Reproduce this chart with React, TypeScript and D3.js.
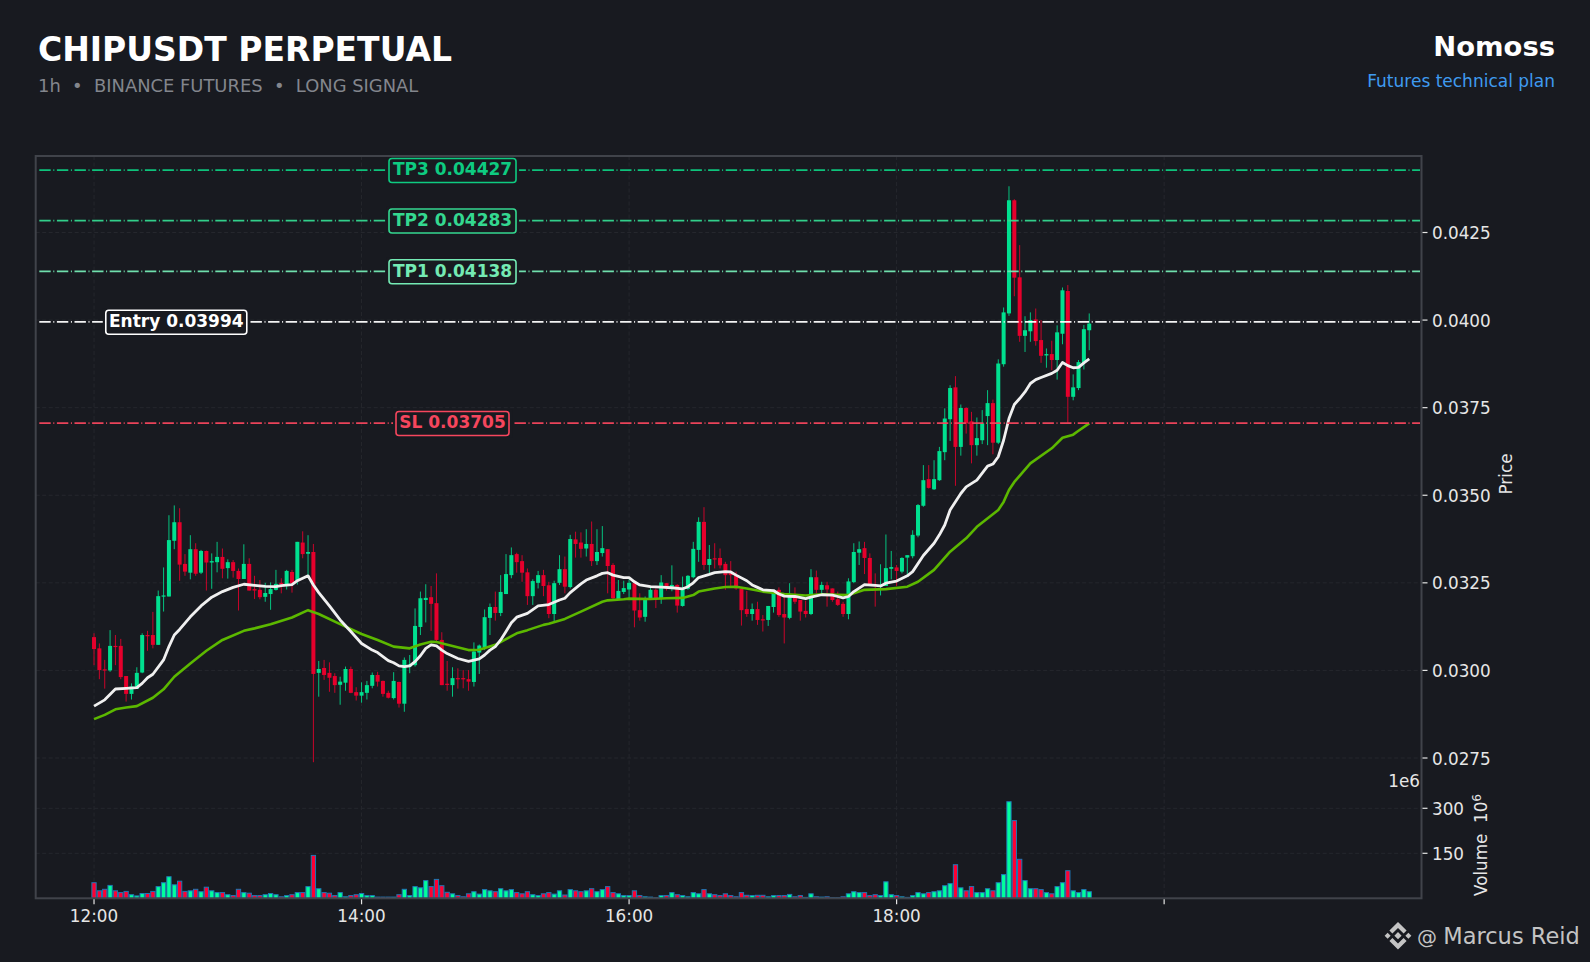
import React from "react";
import * as d3 from "d3";

// Prices below are in units of 0.00001 USDT, one entry per bar.
const priceUnit = 1e-5;
const barHours = 0.04;
const sessionStartHour = 12;

const highs = [
3106,3077,3030,3115,3101,3090,2984,2963,3009,3106,
3113,3167,3228,3294,3443,3471,3463,3332,3386,3363,
3344,3342,3334,3367,3348,3317,3315,3291,3360,3320,
3270,3258,3250,3251,3287,3263,3287,3287,3367,3397,
3386,3361,3027,3030,3023,2992,2982,3011,3011,2952,
2966,2970,2994,2996,2971,2942,2995,2968,3037,3044,
3177,3225,3246,3241,3277,3109,3027,3009,3006,3001,
3001,3080,3074,3174,3191,3225,3272,3332,3351,3336,
3329,3291,3260,3284,3287,3253,3256,3329,3325,3387,
3396,3394,3403,3425,3403,3412,3346,3306,3258,3256,
3260,3258,3220,3211,3239,3234,3272,3249,3300,3246,
3268,3272,3367,3437,3466,3358,3363,3348,3310,3312,
3282,3234,3227,3191,3196,3158,3184,3230,3237,3220,
3249,3237,3201,3199,3289,3285,3253,3253,3234,3225,
3196,3263,3363,3368,3367,3334,3277,3303,3388,3341,
3301,3323,3329,3400,3475,3586,3586,3600,3638,3748,
3814,3840,3759,3751,3738,3722,3743,3800,3773,3888,
4036,4382,4345,4214,4011,4022,4033,4000,3919,3941,
3985,4093,4100,3845,3886,3986,4019];

const lows = [
3015,2975,2948,2996,3015,2975,2911,2917,2947,2992,
3056,3063,3073,3168,3211,3346,3256,3270,3260,3270,
3275,3228,3233,3280,3263,3262,3265,3171,3261,3228,
3204,3203,3196,3173,3228,3220,3231,3222,3245,3320,
3272,2738,2925,2973,2939,2936,2902,2942,2935,2914,
2908,2917,2949,2954,2925,2920,2917,2894,2882,2992,
3011,3101,3137,3113,3082,2958,2942,2925,2948,2949,
2942,2954,2990,3058,3101,3142,3155,3218,3263,3279,
3253,3187,3187,3234,3212,3149,3139,3244,3220,3234,
3322,3322,3325,3298,3301,3325,3220,3201,3201,3218,
3201,3123,3142,3139,3201,3178,3190,3228,3226,3165,
3182,3230,3263,3310,3287,3277,3291,3291,3230,3239,
3230,3128,3153,3142,3130,3111,3127,3165,3153,3077,
3146,3190,3142,3151,3158,3220,3218,3182,3196,3184,
3153,3146,3249,3301,3275,3241,3182,3214,3241,3260,
3241,3277,3275,3320,3380,3467,3519,3515,3541,3600,
3655,3527,3613,3676,3591,3613,3646,3643,3617,3646,
3867,4012,4068,3938,3909,3938,3927,3878,3864,3857,
3830,3931,3707,3771,3800,3859,3914];

const opens = [
3095,3063,3003,3000,3070,3070,2984,2933,2947,2994,
3101,3101,3073,3212,3211,3370,3423,3304,3279,3346,
3279,3341,3308,3309,3324,3292,3309,3284,3261,3304,
3232,3230,3210,3218,3230,3250,3246,3281,3258,3365,
3333,3338,2993,3007,2993,2984,2959,2965,3004,2938,
2928,2936,2956,2987,2970,2936,2921,2967,2905,3011,
3015,3124,3201,3209,3192,3087,2962,2958,2978,2978,
2975,2967,3051,3066,3150,3181,3164,3218,3272,3332,
3312,3280,3212,3250,3272,3243,3161,3250,3289,3238,
3374,3365,3348,3361,3312,3335,3346,3301,3204,3224,
3231,3249,3172,3153,3205,3230,3205,3249,3239,3244,
3184,3233,3266,3344,3424,3301,3320,3321,3304,3282,
3272,3233,3175,3161,3175,3146,3144,3181,3230,3161,
3150,3211,3201,3170,3161,3266,3230,3243,3234,3203,
3190,3161,3252,3336,3349,3321,3244,3239,3241,3290,
3294,3282,3322,3326,3385,3470,3546,3517,3543,3623,
3717,3808,3638,3749,3711,3643,3657,3726,3763,3650,
3874,4019,4342,4122,3955,3968,4002,3943,3899,3903,
3886,3961,4083,3781,3806,3878,3971];

const closes = [
3061,3001,3001,3070,3068,2981,2933,2954,2993,3101,
3099,3073,3212,3214,3372,3423,3302,3282,3346,3276,
3341,3308,3312,3324,3290,3309,3284,3261,3304,3228,
3228,3209,3221,3232,3247,3246,3284,3249,3367,3332,
3338,2990,3004,2987,2979,2958,2968,3004,2936,2928,
2938,2958,2987,2968,2933,2922,2970,2905,3030,3017,
3127,3206,3207,3190,3087,2958,2959,2978,2976,2976,
2968,3054,3071,3152,3181,3164,3224,3275,3329,3309,
3279,3212,3255,3272,3241,3161,3249,3289,3239,3375,
3361,3347,3361,3312,3338,3349,3298,3206,3227,3235,
3250,3171,3151,3201,3230,3205,3251,3234,3244,3185,
3233,3270,3347,3424,3301,3318,3318,3300,3272,3272,
3234,3172,3161,3175,3144,3144,3184,3225,3158,3151,
3211,3196,3168,3161,3266,3230,3244,3231,3201,3187,
3161,3254,3338,3346,3321,3241,3241,3244,3292,3295,
3284,3321,3329,3387,3472,3543,3521,3546,3626,3719,
3806,3638,3749,3705,3643,3663,3705,3763,3650,3876,
4022,4342,4121,3955,3971,4000,3940,3898,3903,3886,
3965,4085,3781,3808,3880,3974,3990];

const volumes = [
52,25,30,43,25,19,23,12,8,16,
16,23,39,52,72,45,57,23,25,30,
22,37,25,19,19,12,9,30,19,17,
9,9,12,16,12,5,9,12,19,19,
39,143,32,19,17,9,19,5,9,12,
16,9,9,4,4,4,4,12,30,9,
39,35,59,39,63,42,20,15,9,5,
15,22,14,29,25,22,32,25,29,19,
15,22,12,9,15,19,14,25,11,29,
25,22,25,32,22,29,39,19,15,9,
9,25,9,5,4,2,9,9,19,12,
9,5,19,15,29,15,12,9,15,9,
5,19,10,9,10,10,5,9,9,9,
13,5,9,3,15,5,4,5,2,2,
5,15,22,19,19,9,12,9,55,12,
9,5,3,9,19,15,19,22,25,42,
49,112,35,25,39,19,19,32,25,52,
79,322,259,130,59,32,32,29,19,15,
39,52,92,25,19,29,22];

// Moving averages, read at the listed bars.
const fastBars = [0,2,4,6,8,9,10,11,13,14,15,16,18,20,22,24,26,28,30,32,34,35,37,38,40,41,42,44,46,48,50,52,53,55,56,57,58,59,60,61,62,63,64,65,66,68,70,72,73,74,75,76,77,78,79,81,83,85,87,88,89,91,92,94,95,96,97,99,100,101,102,104,106,108,110,111,112,113,115,116,118,119,120,122,123,124,125,127,128,129,131,133,134,136,138,139,140,141,142,144,146,147,148,150,152,153,155,157,158,159,160,162,163,165,167,168,169,170,171,172,173,174,175,176,177,179,180,181,182,183,184,185,186];
const fastValues = [2898,2916,2947,2949,2951,2963,2979,2989,3030,3068,3101,3117,3153,3184,3209,3225,3237,3246,3243,3240,3239,3242,3245,3256,3270,3244,3222,3184,3144,3111,3077,3058,3051,3028,3022,3013,3011,3013,3025,3042,3063,3073,3070,3058,3048,3034,3026,3033,3044,3058,3068,3087,3111,3136,3152,3163,3184,3188,3201,3206,3222,3247,3258,3270,3277,3279,3272,3265,3265,3253,3244,3239,3238,3236,3233,3239,3250,3265,3274,3279,3282,3281,3272,3256,3244,3237,3230,3228,3218,3212,3211,3205,3209,3216,3215,3211,3207,3211,3225,3245,3243,3241,3249,3255,3270,3282,3328,3363,3387,3415,3458,3505,3524,3543,3583,3589,3610,3657,3719,3759,3776,3795,3819,3830,3836,3848,3857,3879,3870,3864,3865,3878,3889];

const slowBars = [0,2,4,6,8,11,13,15,18,21,24,28,30,33,37,40,42,46,50,53,56,59,61,63,64,67,70,72,75,79,81,84,85,88,91,95,96,99,100,104,107,110,112,113,116,118,120,122,123,125,129,133,136,139,141,144,148,152,154,157,160,163,165,169,170,171,172,175,179,181,183,184,186];
const slowValues = [2861,2873,2889,2894,2898,2922,2946,2982,3020,3056,3087,3113,3120,3132,3151,3172,3161,3132,3104,3087,3068,3063,3074,3082,3081,3070,3058,3059,3073,3106,3115,3130,3133,3147,3168,3196,3200,3203,3205,3204,3206,3207,3215,3225,3234,3238,3239,3234,3231,3225,3218,3214,3217,3216,3215,3230,3232,3239,3253,3287,3339,3377,3410,3458,3481,3515,3538,3591,3634,3664,3673,3684,3705];

const levelNames = ["TP3", "TP2", "TP1", "Entry", "SL"];
const levelPrices = [0.04427, 0.04283, 0.04138, 0.03994, 0.03705];
const levelLabels = ["TP3 0.04427", "TP2 0.04283", "TP1 0.04138", "Entry 0.03994", "SL 0.03705"];
const levelColors = ["#0ecb81", "#34d890", "#74eab4", "#ffffff", "#f6465d"];
const levelLabelHours = [14.68, 14.68, 14.68, 12.615, 14.68];
const levelLabelWidths = [127, 127, 127, 141, 113];

const priceTicks = [0.0275, 0.03, 0.0325, 0.035, 0.0375, 0.04, 0.0425];
const volumeTicks = [150, 300];
const hourTicks = [12, 14, 16, 18, 20];
const hourLabels = ["12:00", "14:00", "16:00", "18:00", ""];

const BG = "#181a20";
const GRID = "#25272d";
const FRAME = "#40434a";
const TICK = "#e6e6e6";
const FONT = "'DejaVu Sans', sans-serif";
const UP = "#00e08f";
const DOWN = "#e6002c";
const VOL_UP = "#00ff9c";
const VOL_DOWN = "#ff0033";
const VOL_EDGE = "#1f77b4";

const left = 35.7, right = 1421.5, top = 156, bottom = 898.3;

export default function App() {
  const x = d3.scaleLinear().domain([11.564, 21.924]).range([left, right]);
  const y = d3.scaleLinear().domain([0.0275, 0.0425]).range([758, 232.5]);
  const yVol = d3.scaleLinear().domain([0, 300]).range([898.3, 808.3]);
  const barX = (i: number) => x(sessionStartHour + i * barHours);
  const px = (v: number) => y(v * priceUnit);
  const line = d3.line<[number, number]>().x((d) => barX(d[0])).y((d) => px(d[1]));
  const fastPath = line(fastBars.map((b, i) => [b, fastValues[i]] as [number, number])) ?? "";
  const slowPath = line(slowBars.map((b, i) => [b, slowValues[i]] as [number, number])) ?? "";
  const bw = barX(1) - barX(0);

  return (
    <svg
      width={1590}
      height={962}
      viewBox="0 0 1590 962"
      style={{ position: "fixed", left: 0, top: 0, display: "block", background: BG }}
      fontFamily={FONT}
    >
      <rect width={1590} height={962} fill={BG} />

      {/* grid */}
      <g stroke={GRID} strokeWidth={1} strokeDasharray="4 2.5">
        {hourTicks.map((h) => (
          <line key={h} x1={x(h)} x2={x(h)} y1={top} y2={bottom} />
        ))}
        {priceTicks.map((p) => (
          <line key={p} x1={left} x2={right} y1={y(p)} y2={y(p)} />
        ))}
        {volumeTicks.map((v) => (
          <line key={v} x1={left} x2={right} y1={yVol(v)} y2={yVol(v)} />
        ))}
      </g>

      {/* volume */}
      <g stroke={VOL_EDGE} strokeWidth={1}>
        {volumes.map((v, i) => (
          <rect
            key={i}
            x={barX(i) - bw * 0.4}
            width={bw * 0.8}
            y={yVol(v)}
            height={yVol(0) - yVol(v)}
            fill={closes[i] >= opens[i] ? VOL_UP : VOL_DOWN}
          />
        ))}
      </g>

      {/* candles */}
      {opens.map((o, i) => {
        const c = closes[i];
        const col = c >= o ? UP : DOWN;
        const yt = px(Math.max(o, c));
        const yb = px(Math.min(o, c));
        return (
          <g key={i}>
            <line x1={barX(i)} x2={barX(i)} y1={px(highs[i])} y2={px(lows[i])} stroke={col} strokeWidth={1} strokeOpacity={0.85} />
            <rect x={barX(i) - 2} width={4} y={yt} height={Math.max(yb - yt, 1.2)} fill={col} />
          </g>
        );
      })}

      {/* moving averages */}
      <path d={slowPath} fill="none" stroke="#5cb800" strokeWidth={2.6} strokeLinejoin="round" />
      <path d={fastPath} fill="none" stroke="#f0f0f0" strokeWidth={2.8} strokeLinejoin="round" />

      {/* levels */}
      {levelPrices.map((p, i) => (
        <line
          key={levelNames[i]}
          x1={39.3}
          x2={1420}
          y1={y(p) - 0.3}
          y2={y(p) - 0.3}
          stroke={levelColors[i]}
          strokeWidth={1.8}
          strokeOpacity={0.95}
          strokeDasharray="11.4 2.6 1 2.6"
        />
      ))}
      {levelPrices.map((p, i) => {
        const cx = x(levelLabelHours[i]);
        const w = levelLabelWidths[i];
        return (
          <g key={levelNames[i]}>
            <rect x={cx - w / 2 - 3} width={w + 6} y={y(p) - 14} height={28} fill={BG} />
            <rect
              x={cx - w / 2}
              width={w}
              y={y(p) - 12}
              height={24}
              rx={3}
              fill={BG}
              stroke={levelColors[i]}
              strokeWidth={1.6}
            />
            <text
              x={cx}
              y={y(p) + 4.8}
              textAnchor="middle"
              fontSize={17}
              fontWeight={700}
              fill={levelColors[i]}
            >
              {levelLabels[i]}
            </text>
          </g>
        );
      })}

      {/* frame */}
      <rect x={left} y={top} width={right - left} height={bottom - top} fill="none" stroke={FRAME} strokeWidth={2} />

      {/* axes */}
      <g stroke={TICK} strokeWidth={1.2}>
        {priceTicks.map((p) => (
          <line key={p} x1={right + 1} x2={right + 6} y1={y(p)} y2={y(p)} />
        ))}
        {volumeTicks.map((v) => (
          <line key={v} x1={right + 1} x2={right + 6} y1={yVol(v)} y2={yVol(v)} />
        ))}
        {hourTicks.map((h) => (
          <line key={h} x1={x(h)} x2={x(h)} y1={bottom + 1} y2={bottom + 6} />
        ))}
      </g>
      <g fill={TICK} fontSize={16.8}>
        {priceTicks.map((p) => (
          <text key={p} x={1432} y={y(p) + 6.6}>
            {p.toFixed(4)}
          </text>
        ))}
        {volumeTicks.map((v) => (
          <text key={v} x={1432} y={yVol(v) + 6.6}>
            {v}
          </text>
        ))}
        {hourLabels.map((l, i) =>
          l ? (
            <text key={l} x={x(hourTicks[i])} y={922} textAnchor="middle">
              {l}
            </text>
          ) : null
        )}
        <text x={1420} y={786.7} textAnchor="end">1e6</text>
        <text transform="translate(1512,474) rotate(-90)" textAnchor="middle">Price</text>
        <text transform="translate(1486.5,896) rotate(-90)">
          Volume{"\u00a0\u00a0"}10<tspan dy={-6} fontSize={11.6}>6</tspan>
        </text>
      </g>

      {/* header */}
      <text x={38} y={60.8} fontSize={33} fontWeight={700} fill="#ffffff">CHIPUSDT PERPETUAL</text>
      <text x={38} y={92.3} fontSize={17.9} fill="#83868d" style={{ whiteSpace: "pre" }}>
        {"1h  \u2022  BINANCE FUTURES  \u2022  LONG SIGNAL"}
      </text>
      <text x={1555} y={56} fontSize={27.4} fontWeight={700} fill="#ffffff" textAnchor="end">Nomoss</text>
      <text x={1555} y={86.6} fontSize={17} fill="#3f9bf0" textAnchor="end">Futures technical plan</text>

      {/* watermark */}
      <g transform="translate(1398,935.7)" fill="#c4c4c4">
        <path d="M0,-3.6 L3.6,0 L0,3.6 L-3.6,0 Z" />
        <path d="M-13.4,0 L-10.4,-3 L-7.4,0 L-10.4,3 Z" />
        <path d="M13.4,0 L10.4,-3 L7.4,0 L10.4,3 Z" />
        <path d="M0,-13.8 L8.6,-5.2 L5.6,-2.2 L0,-7.8 L-5.6,-2.2 L-8.6,-5.2 Z" />
        <path d="M0,13.8 L8.6,5.2 L5.6,2.2 L0,7.8 L-5.6,2.2 L-8.6,5.2 Z" />
      </g>
      <text x={1417} y={944.3} fontSize={20} fill="#c4c4c4">@</text>
      <text x={1443.3} y={944.3} fontSize={22.5} fill="#c4c4c4">Marcus Reid</text>
    </svg>
  );
}
